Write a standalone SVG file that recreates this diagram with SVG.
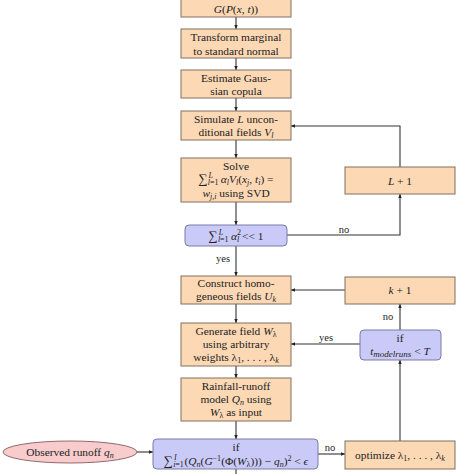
<svg xmlns="http://www.w3.org/2000/svg" width="474" height="474" viewBox="0 0 474 474">
<defs>
<style>
.o{fill:#fdd8b4;stroke:#80705f;stroke-width:1}
.b{fill:#cacaf8;stroke:#7a7aa6;stroke-width:1}
.e{fill:#f8cccc;stroke:#946a6a;stroke-width:1}
text{font-family:"Liberation Serif","DejaVu Serif",serif;font-size:11.4px;fill:#222;text-anchor:middle}
.i{font-style:italic}
.s{font-size:8px}
.g{font-size:13px}
.c path{fill:none;stroke:#333;stroke-width:1.1}
.lab{font-size:10.5px}
</style>
<marker id="ah" viewBox="0 0 8 8" refX="7" refY="4" markerWidth="5" markerHeight="5" orient="auto" markerUnits="userSpaceOnUse">
<path d="M0,1 L7,4 L0,7 z" fill="#222"/>
</marker>
</defs>
<rect width="474" height="474" fill="#fff"/>

<g class="c">
<path d="M236,17 V29" marker-end="url(#ah)"/>
<path d="M236,58 V70" marker-end="url(#ah)"/>
<path d="M236,98 V111" marker-end="url(#ah)"/>
<path d="M236,140 V158" marker-end="url(#ah)"/>
<path d="M236,202 V225" marker-end="url(#ah)"/>
<path d="M236,246 V276" marker-end="url(#ah)"/>
<path d="M236,304 V323" marker-end="url(#ah)"/>
<path d="M236,366 V378" marker-end="url(#ah)"/>
<path d="M236,421 V439" marker-end="url(#ah)"/>
<path d="M236,469 V474"/>
<path d="M287,235 H400 V194" marker-end="url(#ah)"/>
<path d="M400,167 V126 H291" marker-end="url(#ah)"/>
<path d="M345,290 H291" marker-end="url(#ah)"/>
<path d="M400,330 V304" marker-end="url(#ah)"/>
<path d="M360,344 H291" marker-end="url(#ah)"/>
<path d="M400,441 V360" marker-end="url(#ah)"/>
<path d="M318,454 H345" marker-end="url(#ah)"/>
<path d="M137,452 H153" marker-end="url(#ah)"/>
<text class="lab" x="223" y="262">yes</text>
<text class="lab" x="344" y="233">no</text>
<text class="lab" x="388" y="320">no</text>
<text class="lab" x="326" y="341">yes</text>
<text class="lab" x="330" y="451">no</text>
</g>

<g id="n1"><rect class="o" x="181" y="-10" width="110" height="27"/>
<text x="236" y="13"><tspan class="i">G</tspan>(<tspan class="i">P</tspan>(<tspan class="i">x, t</tspan>))</text></g>

<g id="n2"><rect class="o" x="181" y="29" width="110" height="29"/>
<text x="236" y="41">Transform marginal</text><text x="236" y="55">to standard normal</text></g>

<g id="n3"><rect class="o" x="181" y="70" width="110" height="28"/>
<text x="236" y="82">Estimate Gaus-</text><text x="236" y="95">sian copula</text></g>

<g id="n4"><rect class="o" x="181" y="111" width="110" height="29"/>
<text x="236" y="123">Simulate <tspan class="i">L</tspan> uncon-</text>
<text x="236" y="136">ditional fields <tspan class="i">V</tspan><tspan class="s i" dy="2">l</tspan></text></g>

<g id="n5"><rect class="o" x="181" y="158" width="110" height="44"/>
<text x="236" y="170">Solve</text>
<text x="236" y="183"><tspan class="g">∑</tspan><tspan class="s" dy="2"><tspan class="i">l</tspan>=1</tspan><tspan class="s i" dx="-10" dy="-7">L</tspan><tspan dx="5" dy="5"> </tspan><tspan class="i">α</tspan><tspan class="s i" dy="2">l</tspan><tspan class="i" dy="-2">V</tspan><tspan class="s i" dy="2">l</tspan><tspan dy="-2">(</tspan><tspan class="i">x</tspan><tspan class="s i" dy="2">j</tspan><tspan dy="-2">, </tspan><tspan class="i">t</tspan><tspan class="s i" dy="2">i</tspan><tspan dy="-2">) =</tspan></text>
<text x="236" y="197"><tspan class="i">w</tspan><tspan class="s i" dy="2">j,i</tspan><tspan dy="-2"> using SVD</tspan></text></g>

<g id="n6"><rect class="b" x="185" y="225" width="102" height="21" rx="4"/>
<text x="236" y="240"><tspan class="g">∑</tspan><tspan class="s" dy="2"><tspan class="i">l</tspan>=1</tspan><tspan class="s i" dx="-10" dy="-7">L</tspan><tspan dx="5" dy="5"> </tspan><tspan class="i">α</tspan><tspan class="s" dy="-5">2</tspan><tspan class="s i" dx="-4" dy="7">l</tspan><tspan dy="-2"> &lt;&lt; 1</tspan></text></g>

<g id="n7"><rect class="o" x="345" y="167" width="110" height="27"/>
<text x="400" y="185"><tspan class="i">L</tspan> + 1</text></g>

<g id="n8"><rect class="o" x="181" y="276" width="110" height="28"/>
<text x="236" y="287">Construct homo-</text>
<text x="236" y="300">geneous fields <tspan class="i">U</tspan><tspan class="s i" dy="2">k</tspan></text></g>

<g id="n9"><rect class="o" x="345" y="277" width="110" height="27"/>
<text x="400" y="294"><tspan class="i">k</tspan> + 1</text></g>

<g id="n10"><rect class="o" x="181" y="323" width="110" height="43"/>
<text x="236" y="335">Generate field <tspan class="i">W</tspan><tspan class="s" dy="2">λ</tspan></text>
<text x="236" y="348">using arbitrary</text>
<text x="236" y="361">weights λ<tspan class="s" dy="2">1</tspan><tspan dy="-2">, . . . , λ</tspan><tspan class="s i" dy="2">k</tspan></text></g>

<g id="n11"><rect class="b" x="360" y="330" width="81" height="30" rx="4"/>
<text x="400" y="342">if</text>
<text x="400" y="355"><tspan class="i" font-size="11">t</tspan><tspan class="i" font-size="9" dy="2">modelruns</tspan><tspan dy="-2"> &lt; </tspan><tspan class="i">T</tspan></text></g>

<g id="n12"><rect class="o" x="181" y="378" width="110" height="43"/>
<text x="236" y="390">Rainfall-runoff</text>
<text x="236" y="403">model <tspan class="i">Q</tspan><tspan class="s i" dy="2">n</tspan><tspan dy="-2"> using</tspan></text>
<text x="236" y="416"><tspan class="i">W</tspan><tspan class="s" dy="2">λ</tspan><tspan dy="-2"> as input</tspan></text></g>

<g id="n13"><rect class="b" x="153" y="439" width="165" height="30" rx="4"/>
<text x="236" y="451">if</text>
<text x="236" y="465" font-size="12"><tspan class="g">∑</tspan><tspan class="s" dy="2"><tspan class="i">i</tspan>=1</tspan><tspan class="s i" dx="-10" dy="-7">I</tspan><tspan dx="8" dy="5">(</tspan><tspan class="i">Q</tspan><tspan class="s i" dy="2">n</tspan><tspan dy="-2">(</tspan><tspan class="i">G</tspan><tspan class="s" dy="-4">−1</tspan><tspan dy="4">(Φ(</tspan><tspan class="i">W</tspan><tspan class="s" dy="2">λ</tspan><tspan dy="-2">))) − </tspan><tspan class="i">q</tspan><tspan class="s i" dy="2">n</tspan><tspan dy="-2">)</tspan><tspan class="s" dy="-4">2</tspan><tspan dy="4"> &lt; </tspan><tspan class="i">ϵ</tspan></text></g>

<g id="n14"><rect class="o" x="345" y="441" width="110" height="28"/>
<text x="400" y="459">optimize λ<tspan class="s" dy="2">1</tspan><tspan dy="-2">, . . . , λ</tspan><tspan class="s i" dy="2">k</tspan></text></g>

<g id="n15"><ellipse class="e" cx="70" cy="452" rx="67" ry="11"/>
<text x="70" y="456">Observed runoff <tspan class="i">q</tspan><tspan class="s i" dy="2">n</tspan></text></g>
</svg>
